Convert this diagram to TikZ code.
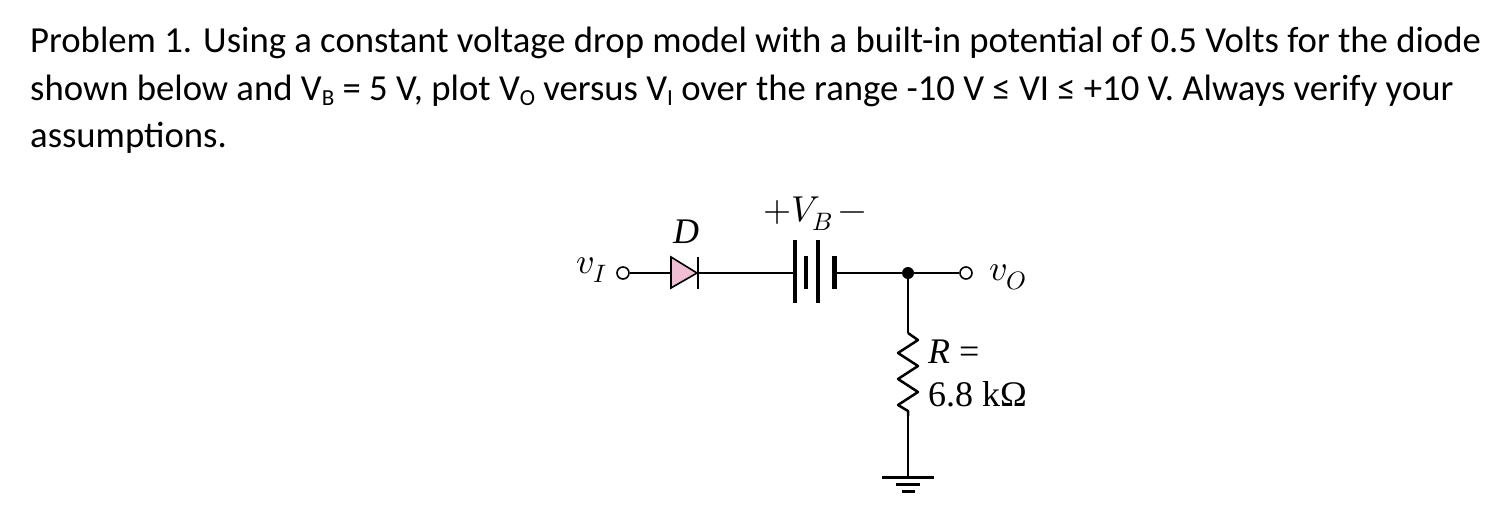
\documentclass[tikz,border=0pt]{standalone}
\usepackage{fontspec}
\setmainfont{Carlito}
\newfontfamily\ser{Liberation Serif}
\usepackage{unicode-math}
\setmathfont{Latin Modern Math}
\begin{document}
\begin{tikzpicture}[x=1pt,y=-1pt,
  w/.style={line width=2.5pt},
  plate/.style={line width=3.5pt},
  term/.style={circle,draw,line width=1.6pt,fill=white,inner sep=0pt,minimum size=12pt},
  lab/.style={font=\ser\fontsize{36}{40}\selectfont,inner sep=0pt},
  txt/.style={anchor=base west,inner sep=0pt,font=\fontsize{36.7}{40}\selectfont}]
\useasboundingbox (0,0) rectangle (1500,504);
\newcommand{\sbs}[1]{\raisebox{-0.15em}{\fontsize{23}{25}\selectfont #1}}
\node[txt] (l1) at (30,52) {Problem 1. Using a constant voltage drop model with a built-in potential of 0.5 Volts for the diode};
\node[txt] (l2) at (30,100) {shown below and V\sbs{B} = 5 V, plot V\sbs{O} versus V\sbs{I} over the range -10 V ≤ VI ≤ +10 V. Always verify your};
\node[txt] (l3) at (30,147) {assumptions.};
% nodes
\node[term] (vi) at (623,273) {};
\coordinate (da) at (671,273);
\coordinate (dk) at (698,273);
\coordinate (b1) at (795,273);
\coordinate (b4) at (834,273);
\node[circle,fill,inner sep=0pt,minimum size=12pt] (j) at (908,273) {};
\node[term] (vo) at (966,273) {};
\coordinate (rt) at (908,333);
\coordinate (rb) at (908,416);
\coordinate (g) at (908,477);
% wires
\draw[w] (vi) -- (da);
\draw[w] (dk) -- (b1);
\draw[w] (b4) -- (j) -- (vo);
\draw[w] (j) -- (rt);
\draw[w] (rb) -- (g);
% diode
\draw[line width=1.6pt,fill={rgb,255:red,240;green,190;blue,210}] (671,257) -- (697,273) -- (671,288) -- cycle;
\draw[line width=2pt] (698,257) -- (698,289);
% battery
\draw[plate] (795,240) -- (795,303);
\draw[plate] (806,256) -- (806,289);
\draw[plate] (818,240) -- (818,303);
\draw[line width=5pt] (834,256) -- (834,289);
% resistor
\draw[w,line join=round] (rt) -- (918,340) -- (898,353) -- (918,366) -- (898,379) -- (918,392) -- (898,405) -- (908,411) -- (rb);
% ground
\draw[line width=3pt] (882,477) -- (934,477);
\draw[line width=3pt] (896,484) -- (920,484);
\draw[line width=3pt] (902,491) -- (915,491);
% labels
\node[lab] (dl) at (686,232) {\itshape D};
\node[lab] (vbl) at (815,214) {$+V_B\,-$};
\node[lab] (vil) at (592,270) {$v_I$};
\node[lab] (vol) at (1008,277) {$v_O$};
\node[lab,anchor=west] (rl) at (928,352) {\itshape R \upshape=};
\node[lab,anchor=west] (rv) at (928,394) {6.8 kΩ};
\end{tikzpicture}
\end{document}
